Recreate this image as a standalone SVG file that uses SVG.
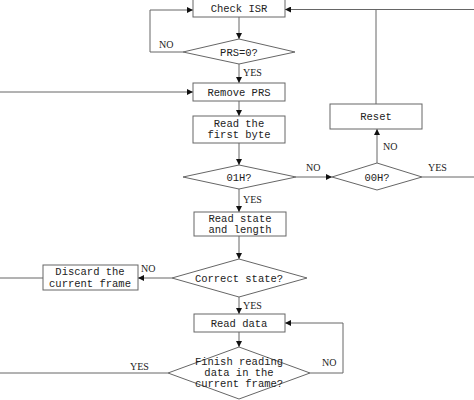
<svg xmlns="http://www.w3.org/2000/svg" width="474" height="400" viewBox="0 0 474 400">
<defs>
<marker id="ah" viewBox="0 0 10 10" refX="10" refY="5" markerWidth="6" markerHeight="6" orient="auto" markerUnits="userSpaceOnUse">
<path d="M0,0 L10,5 L0,10 z" fill="#111"/>
</marker>
<style>
.n{fill:#fff;stroke:#666;stroke-width:1}
.t{font-family:"Liberation Mono",monospace;font-size:10.5px;fill:#222;text-anchor:middle}
.l{font-family:"Liberation Serif",serif;font-size:10px;fill:#222}
.c{fill:none;stroke:#666;stroke-width:1}
</style>
</defs>
<rect width="474" height="400" fill="#fff"/>
<g id="connectors">
<path class="c" d="M183,52 H150 V10 H193" marker-end="url(#ah)"/>
<path class="c" d="M474,9.5 H285" marker-end="url(#ah)"/>
<path class="c" d="M376,104 V9.5"/>
<path class="c" d="M239,17 V39" marker-end="url(#ah)"/>
<path class="c" d="M239,64 V83" marker-end="url(#ah)"/>
<path class="c" d="M0,92 H193" marker-end="url(#ah)"/>
<path class="c" d="M239,101 V116" marker-end="url(#ah)"/>
<path class="c" d="M239,143 V165" marker-end="url(#ah)"/>
<path class="c" d="M296,177 H332" marker-end="url(#ah)"/>
<path class="c" d="M377,163 V129" marker-end="url(#ah)"/>
<path class="c" d="M422,177 H474"/>
<path class="c" d="M239,189 V212" marker-end="url(#ah)"/>
<path class="c" d="M239,236 V259" marker-end="url(#ah)"/>
<path class="c" d="M172,278 H138" marker-end="url(#ah)"/>
<path class="c" d="M43,278 H0"/>
<path class="c" d="M239,297 V314" marker-end="url(#ah)"/>
<path class="c" d="M239,332 V347" marker-end="url(#ah)"/>
<path class="c" d="M310,373 H343 V323 H285" marker-end="url(#ah)"/>
<path class="c" d="M168,373 H0"/>
<text class="l" x="159" y="48">NO</text>
<text class="l" x="243" y="76">YES</text>
<text class="l" x="306" y="171">NO</text>
<text class="l" x="383" y="150">NO</text>
<text class="l" x="428" y="171">YES</text>
<text class="l" x="243" y="203">YES</text>
<text class="l" x="141" y="272">NO</text>
<text class="l" x="243" y="309">YES</text>
<text class="l" x="322" y="366">NO</text>
<text class="l" x="130" y="370">YES</text>
</g>
<g id="check_isr"><rect class="n" x="193" y="-1" width="92" height="18"/><text class="t" x="239" y="12">Check ISR</text></g>
<g id="prs0"><polygon class="n" points="239,39 295,52 239,64 183,52"/><text class="t" x="239" y="56">PRS=0?</text></g>
<g id="remove_prs"><rect class="n" x="193" y="83" width="92" height="18"/><text class="t" x="239" y="96">Remove PRS</text></g>
<g id="read_first"><rect class="n" x="193" y="116" width="92" height="27"/><text class="t" x="239" y="127">Read the</text><text class="t" x="239" y="138">first byte</text></g>
<g id="h01"><polygon class="n" points="239,165 296,177 239,189 183,177"/><text class="t" x="239" y="181">01H?</text></g>
<g id="h00"><polygon class="n" points="377,163 422,177 377,190 332,177"/><text class="t" x="377" y="181">00H?</text></g>
<g id="reset"><rect class="n" x="330" y="104" width="92" height="25"/><text class="t" x="376" y="120">Reset</text></g>
<g id="read_state"><rect class="n" x="194" y="212" width="92" height="24"/><text class="t" x="240" y="222">Read state</text><text class="t" x="240" y="233">and length</text></g>
<g id="correct_state"><polygon class="n" points="239,259 307,278 239,297 172,278"/><text class="t" x="239" y="282">Correct state?</text></g>
<g id="discard"><rect class="n" x="43" y="265" width="95" height="25"/><text class="t" x="90" y="275">Discard the</text><text class="t" x="90" y="287">current frame</text></g>
<g id="read_data"><rect class="n" x="194" y="314" width="91" height="18"/><text class="t" x="239" y="327">Read data</text></g>
<g id="finish"><polygon class="n" points="239,347 310,373 239,399 168,373"/><text class="t" x="239" y="365">Finish reading</text><text class="t" x="239" y="376">data in the</text><text class="t" x="239" y="387">current frame?</text></g>
</svg>
